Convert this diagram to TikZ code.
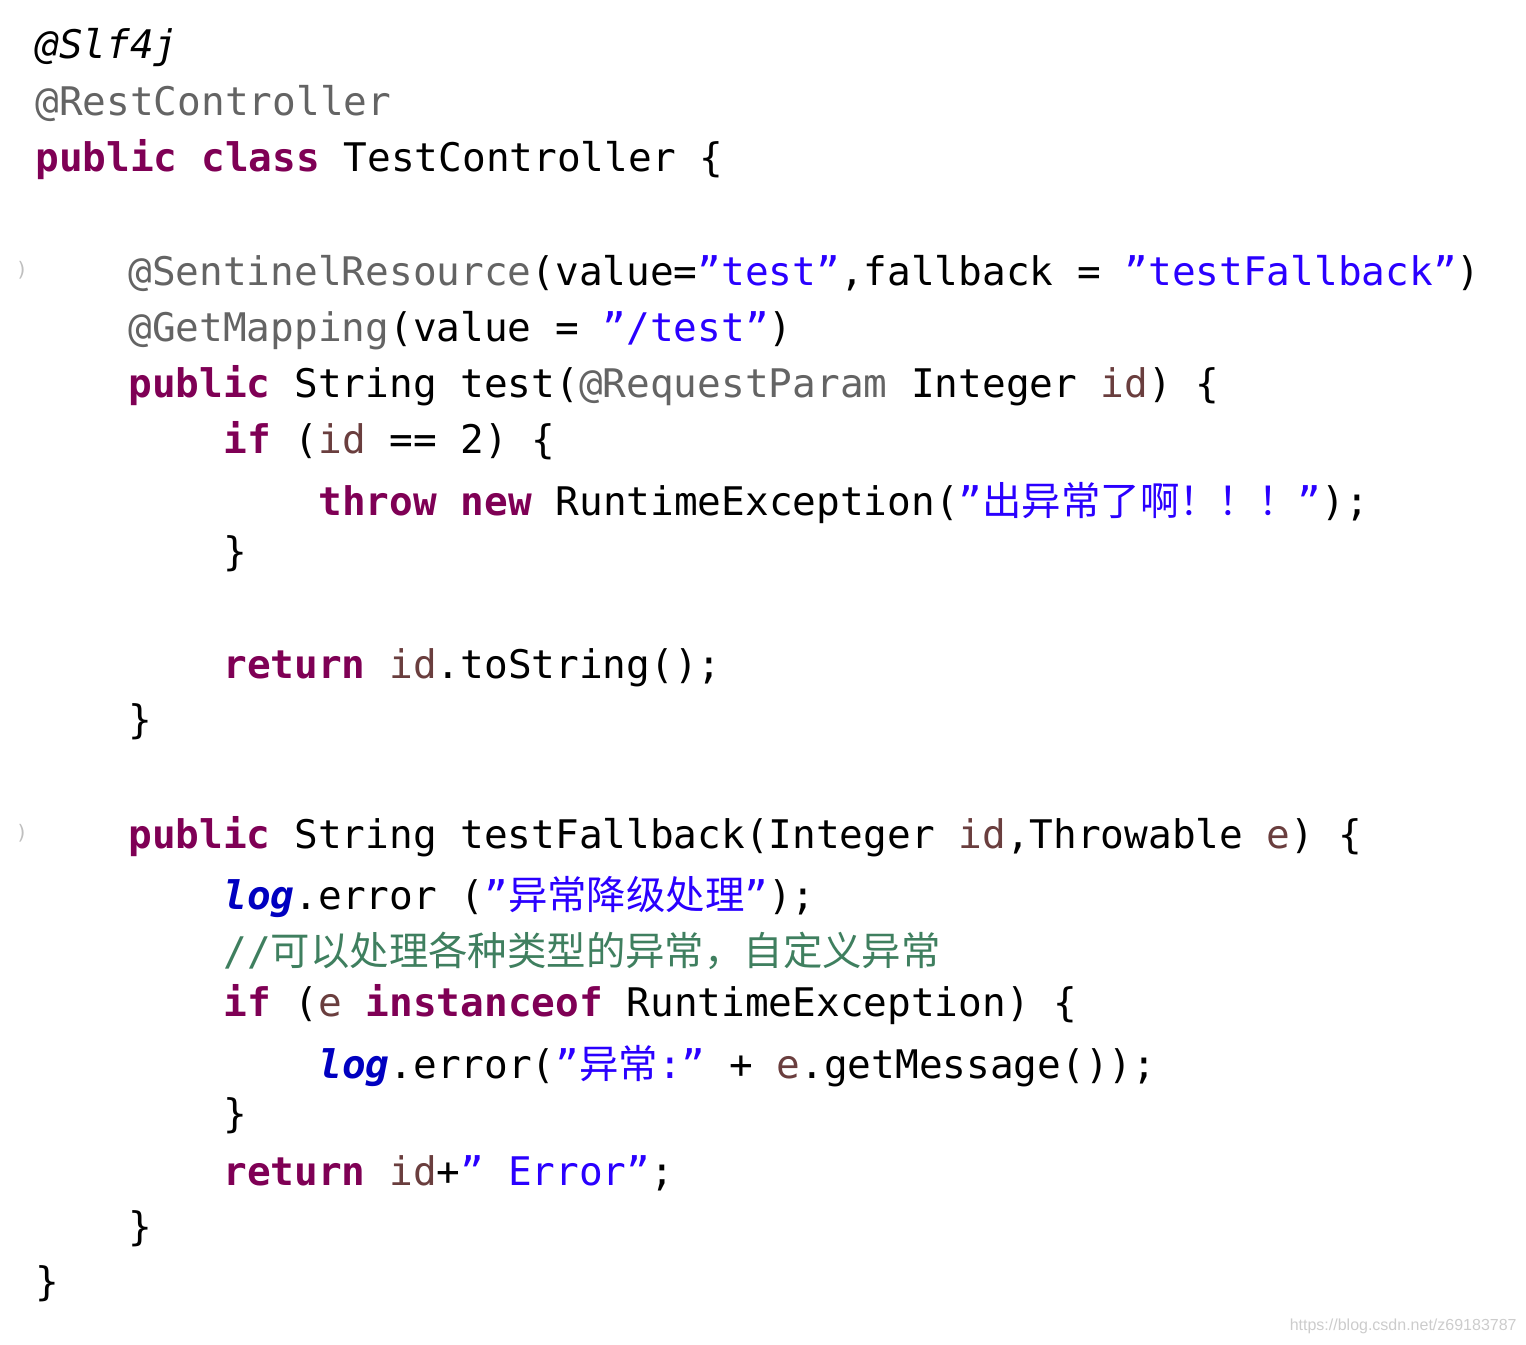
\documentclass[tikz,border=0pt]{standalone}
\usepackage{fontspec}
\setmainfont{DejaVu Sans Mono}
\newfontfamily\cj{Noto Sans CJK SC}
\newfontfamily\wm{Liberation Sans}
\definecolor{kw}{HTML}{7F0055}
\definecolor{an}{HTML}{646464}
\definecolor{st}{HTML}{2A00FF}
\definecolor{cm}{HTML}{3F7F5F}
\definecolor{vr}{HTML}{6A3E3E}
\definecolor{lg}{HTML}{0000C0}
\newcommand{\q}{\symbol{34}}
\newcommand{\K}[1]{\textcolor{kw}{\bfseries #1}}
\newcommand{\A}[1]{\textcolor{an}{#1}}
\newcommand{\Sx}[1]{\textcolor{st}{\q#1\q}}
\newcommand{\V}[1]{\textcolor{vr}{#1}}
\newcommand{\Lg}{\textcolor{lg}{\bfseries\itshape log}}
\begin{document}
\begin{tikzpicture}[x=0.5pt,y=-0.5pt,
  ln/.style={anchor=base west,inner sep=0pt,font=\fontsize{19.7}{22}\selectfont},
  fold/.style={anchor=center,text=gray!50,font=\fontsize{10}{12}\selectfont}]
\useasboundingbox (0,0) rectangle (1526,1344);
\def\a{35}\def\b{128}\def\c{223}\def\d{318}
\node[ln] (l1) at (\a,58) {\itshape @Slf4j};
\node[ln] (l2) at (\a,115) {\A{@RestController}};
\node[ln] (l3) at (\a,171) {\K{public} \K{class} TestController \{};
\node[ln] (l4) at (\b,285) {\A{@SentinelResource}(value=\Sx{test},fallback = \Sx{testFallback})};
\node[ln] (l5) at (\b,341) {\A{@GetMapping}(value = \Sx{/test})};
\node[ln] (l6) at (\b,397) {\K{public} String test(\A{@RequestParam} Integer \V{id}) \{};
\node[ln] (l7) at (\c,453) {\K{if} (\V{id} == 2) \{};
\node[ln] (l8) at (\d,515) {\K{throw} \K{new} RuntimeException(\Sx{{\cj 出异常了啊！！！}});};
\node[ln] (l9) at (\c,565) {\}};
\node[ln] (l10) at (\c,678) {\K{return} \V{id}.toString();};
\node[ln] (l11) at (\b,733) {\}};
\node[ln] (l12) at (\b,848) {\K{public} String testFallback(Integer \V{id},Throwable \V{e}) \{};
\node[ln] (l13) at (\c,909) {\Lg.error (\Sx{{\cj 异常降级处理}});};
\node[ln] (l14) at (\c,965) {\textcolor{cm}{//{\cj 可以处理各种类型的异常，自定义异常}}};
\node[ln] (l15) at (\c,1016) {\K{if} (\V{e} \K{instanceof} RuntimeException) \{};
\node[ln] (l16) at (\d,1078) {\Lg.error(\Sx{{\cj 异常}:}\ + \V{e}.getMessage());};
\node[ln] (l17) at (\c,1127) {\}};
\node[ln] (l18) at (\c,1185) {\K{return} \V{id}+\Sx{ Error};};
\node[ln] (l19) at (\b,1240) {\}};
\node[ln] (l20) at (\a,1295) {\}};
\node[fold] (f1) at (22,270) {)};
\node[fold] (f2) at (22,833) {)};
\node[anchor=east,inner sep=0pt,text=gray!40,font=\wm\fontsize{8}{10}\selectfont] (w) at (1517,1326) {https://blog.csdn.net/z69183787};
\end{tikzpicture}
\end{document}
